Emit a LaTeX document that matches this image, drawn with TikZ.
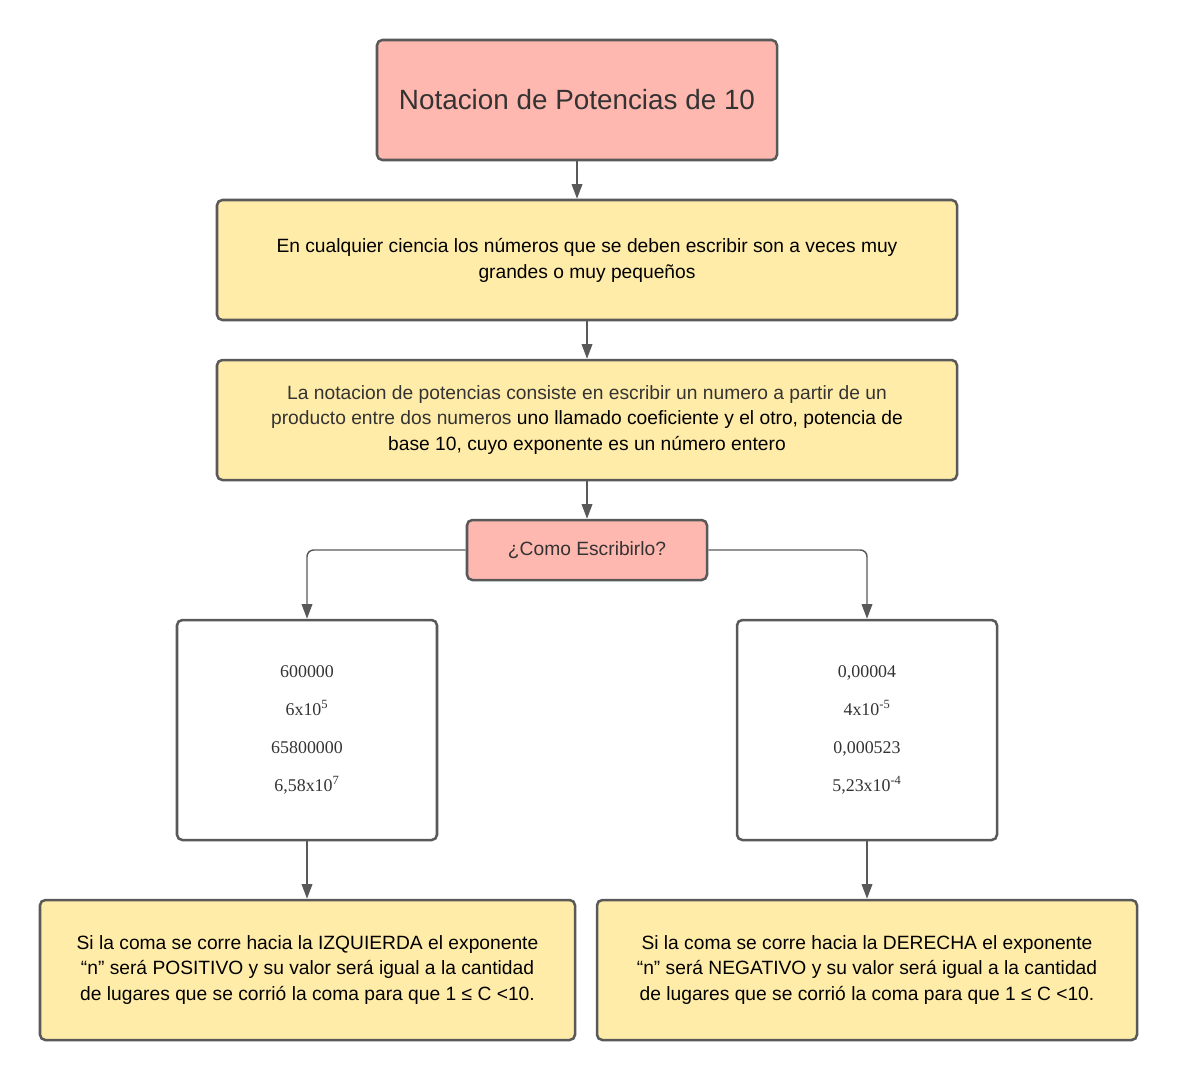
\documentclass[tikz,border=0pt]{standalone}
\usepackage{fontspec}
\setmainfont{Liberation Sans}
\newfontfamily\numfont{Liberation Serif}
\usetikzlibrary{arrows.meta}
\definecolor{pinkf}{HTML}{FFB8B0}
\definecolor{yelf}{HTML}{FFECA8}
\definecolor{edge}{HTML}{595959}
\definecolor{txt}{HTML}{333333}
\tikzset{
 box/.style={draw=edge,line width=1.9pt,rounded corners=4pt,align=center,inner sep=0pt},
 conn/.style={draw=edge,line width=1.1pt,-{Triangle[length=11pt,width=8pt]}},
}
\begin{document}
\begin{tikzpicture}[x=0.0265cm,y=-0.0265cm]
\useasboundingbox (0,0) rectangle (1178,1080);
\node[box,fill=pinkf,minimum width=400*0.0265cm,minimum height=120*0.0265cm,font=\fontsize{21}{25}\selectfont,text=txt] (t) at (577,100) {Notacion de Potencias de 10};
\node[box,fill=yelf,minimum width=740*0.0265cm,minimum height=120*0.0265cm,font=\fontsize{14.5}{19.5}\selectfont] (b2) at (587,260) {En cualquier ciencia los números que se deben escribir son a veces muy\\grandes o muy pequeños};
\node[box,fill=yelf,minimum width=740*0.0265cm,minimum height=120*0.0265cm,font=\fontsize{14.5}{19.5}\selectfont] (b3) at (587,420) {\textcolor{txt}{La notacion de potencias consiste en escribir un numero a partir de un}\\\textcolor{txt}{producto entre dos numeros} uno llamado coeficiente y el otro, potencia de\\base 10, cuyo exponente es un número entero};
\node[box,fill=pinkf,minimum width=240*0.0265cm,minimum height=60*0.0265cm,font=\fontsize{14.5}{18}\selectfont,text=txt] (q) at (587,550) {¿Como Escribirlo?};
\node[box,fill=white,minimum width=260*0.0265cm,minimum height=220*0.0265cm,font=\numfont\fontsize{13.5}{28.5}\selectfont,text=txt] (l) at (307,730) {600000\\6x10\textsuperscript{5}\\65800000\\6,58x10\textsuperscript{7}};
\node[box,fill=white,minimum width=260*0.0265cm,minimum height=220*0.0265cm,font=\numfont\fontsize{13.5}{28.5}\selectfont,text=txt] (r) at (867,730) {0,00004\\4x10\textsuperscript{-5}\\0,000523\\5,23x10\textsuperscript{-4}};
\node[box,fill=yelf,minimum width=535*0.0265cm,minimum height=140*0.0265cm,font=\fontsize{14.5}{19.5}\selectfont] (bl) at (307.5,970) {Si la coma se corre hacia la IZQUIERDA el exponente\\ “n” será POSITIVO y su valor será igual a la cantidad\\de lugares que se corrió la coma para que 1 ≤ C <10.};
\node[box,fill=yelf,minimum width=540*0.0265cm,minimum height=140*0.0265cm,font=\fontsize{14.5}{19.5}\selectfont] (br) at (867,970) {Si la coma se corre hacia la DERECHA el exponente\\“n” será NEGATIVO y su valor será igual a la cantidad\\de lugares que se corrió la coma para que 1 ≤ C <10.};
\draw[conn] (t.south) -- (t.south|-b2.north);
\draw[conn] (b2.south) -- (b3.north);
\draw[conn] (b3.south) -- (q.north);
\draw[conn,rounded corners=5pt] (q.west) -| (l.north);
\draw[conn,rounded corners=5pt] (q.east) -| (r.north);
\draw[conn] (l.south) -- (l.south|-bl.north);
\draw[conn] (r.south) -- (br.north);
\end{tikzpicture}
\end{document}
